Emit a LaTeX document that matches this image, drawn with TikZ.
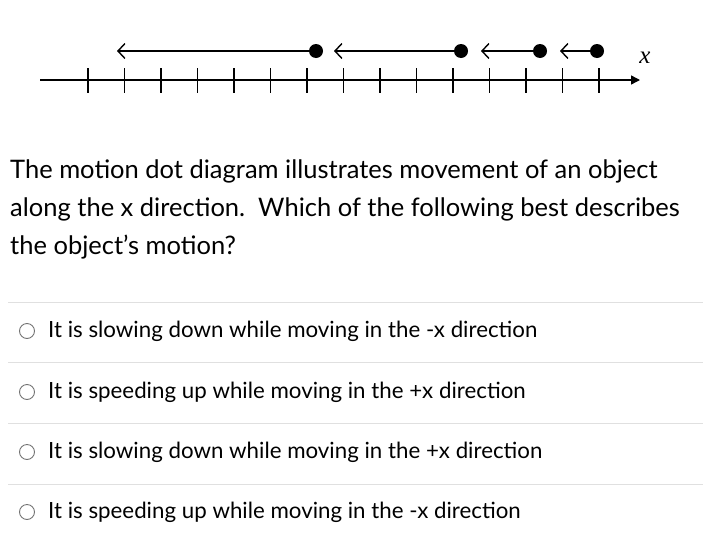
\documentclass[tikz,border=0pt]{standalone}
\usepackage{fontspec}
\setmainfont{Lato}
\usetikzlibrary{arrows.meta}
\begin{document}
\begin{tikzpicture}[x=1pt,y=-1pt,
  q/.style={anchor=base west,inner sep=0,font=\fontsize{25.5}{30}\selectfont},
  opt/.style={anchor=base west,inner sep=0,font=\fontsize{22.3}{26}\selectfont},
  sep/.style={draw=black!12,line width=0.8pt},
  radio/.style={circle,draw=black!55,line width=0.9pt,minimum size=15pt,inner sep=0},
  dot/.style={circle,fill=black,minimum size=14pt,inner sep=0},
  vel/.style={line width=1.4pt,-{Straight Barb[length=7pt,width=15pt,line width=1.4pt]}}]
\useasboundingbox (0,0) rectangle (712,552);
% axis
\coordinate (a0) at (40,80);
\coordinate (a1) at (640,80);
\draw[line width=1.4pt,-{Triangle[length=9pt,width=9pt]}] (a0) -- (a1);
\foreach \i in {0,...,14}{\draw[line width=1.4pt] ({88+\i*36.5},68) -- ({88+\i*36.5},93);}
\node[font=\fontsize{25}{30}\selectfont,inner sep=0] (xl) at (645,58) {\fontspec{Liberation Serif}\itshape x};
% dots and arrows
\node[dot] (d1) at (316,51) {};
\node[dot] (d2) at (461,51) {};
\node[dot] (d3) at (540,51) {};
\node[dot] (d4) at (597,51) {};
\coordinate (e1) at (117,51);
\coordinate (e2) at (334,51);
\coordinate (e3) at (481,51);
\coordinate (e4) at (560,51);
\draw[vel] (d1) -- (e1);
\draw[vel] (d2) -- (e2);
\draw[vel] (d3) -- (e3);
\draw[vel] (d4) -- (e4);
% question
\node[q] (q1) at (10,178) {The motion dot diagram illustrates movement of an object};
\node[q] (q2) at (10,216) {along the x direction.\ \ Which of the following best describes};
\node[q] (q3) at (10,254) {the object{\char"27}s motion?};
% separators
\foreach \y in {302,362,423,484}{\draw[sep] (8,\y) -- (703,\y);}
% options
\node[radio] (r1) at (27,331) {};
\node[opt] (o1) at (48,337) {It is slowing down while moving in the -x direction};
\node[radio] (r2) at (27,392) {};
\node[opt] (o2) at (48,398) {It is speeding up while moving in the +x direction};
\node[radio] (r3) at (27,452) {};
\node[opt] (o3) at (48,458) {It is slowing down while moving in the +x direction};
\node[radio] (r4) at (27,512) {};
\node[opt] (o4) at (48,518) {It is speeding up while moving in the -x direction};
\end{tikzpicture}
\end{document}
